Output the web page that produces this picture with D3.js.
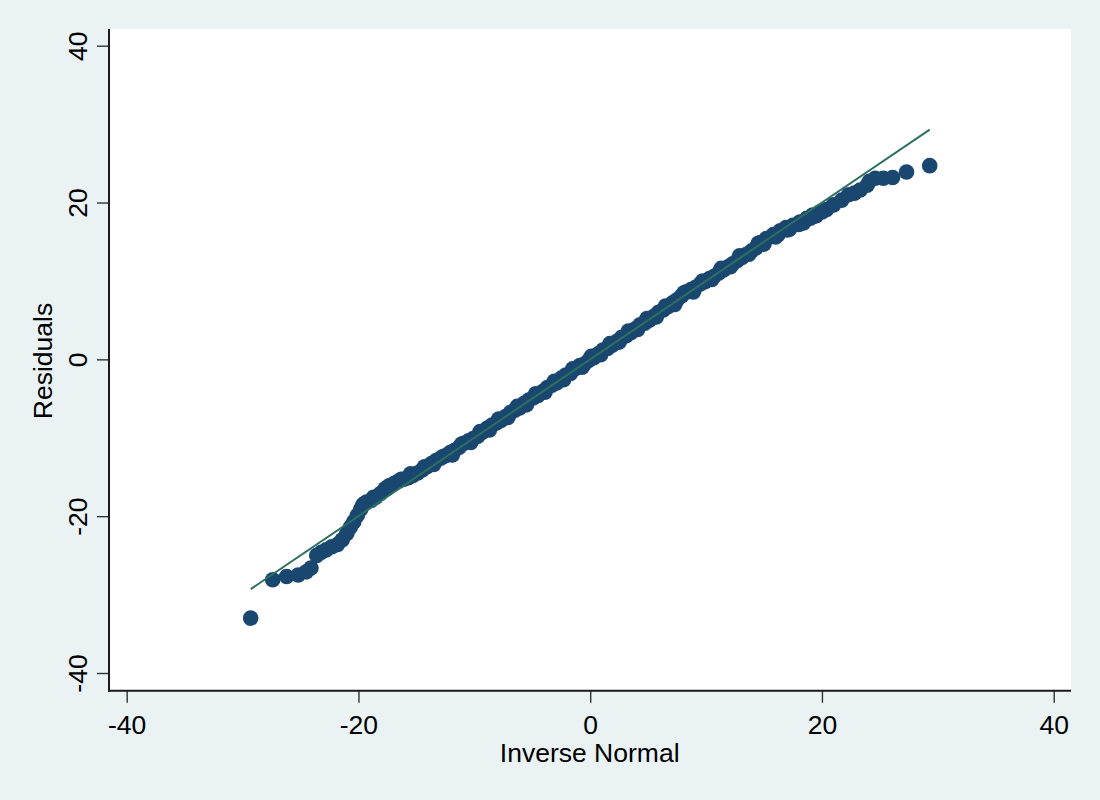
<!DOCTYPE html>
<html>
<head>
<meta charset="utf-8">
<script src="https://cdn.jsdelivr.net/npm/d3@7"></script>
<style>
  html, body { margin: 0; padding: 0; background: #EAF2F3; }
  svg { display: block; }
  text { font-family: "Liberation Sans", Arial, sans-serif; fill: #000; }
</style>
</head>
<body>
<svg id="chart" width="1100" height="800"></svg>
<script>
// ---- Data ----
const xTicks = [-40, -20, 0, 20, 40];
const yTicks = [-40, -20, 0, 20, 40];
const xTitle = "Inverse Normal";
const yTitle = "Residuals";

// Inverse normal quantiles
const inverseNormal = [
  -29.3, -27.4, -26.2, -25.2, -24.5, -24.1, -23.6, -23.2, -22.8, -22.3, -21.8, -21.4,
  -21.0, -20.7, -20.4, -20.1, -19.8, -19.6, -19.3, -18.9, -18.5, -18.1, -17.7, -17.3,
  -16.9, -16.5, -16.1, -15.7, -15.3, -14.9, -14.5, -14.1, -13.7, -13.3,
  -12.9, -12.5, -12.1, -11.7, -11.3, -10.9, -10.5, -10.1, -9.7, -9.3, -8.9, -8.5,
  -8.1, -7.7, -7.3, -6.9, -6.5, -6.1, -5.7, -5.3, -4.9, -4.5, -4.1, -3.7, -3.3,
  -2.9, -2.5, -2.1, -1.7, -1.3, -0.9, -0.5, -0.1, 0.3, 0.7, 1.1, 1.5, 1.9, 2.3,
  2.7, 3.1, 3.5, 3.9, 4.3, 4.7, 5.1, 5.5, 5.9, 6.3, 6.7, 7.1, 7.5, 7.9, 8.3, 8.7,
  9.1, 9.5, 9.9, 10.3, 10.7, 11.1, 11.5, 11.9, 12.3, 12.7, 13.1, 13.5, 13.9, 14.3,
  14.7, 15.2, 15.8, 16.0, 16.4, 16.9, 17.2, 17.5, 18.1, 18.4, 18.7, 19.2, 19.5, 19.8,
  20.4, 21.0, 21.7, 22.3, 22.8, 23.3, 23.9, 24.1, 24.6, 25.3, 26.1, 27.3, 29.3,
  -18.7, -17.5, -16.3, -15.5, -14.3, -13.5,
  -12.7, -11.9, -11.1, -10.3, -9.5, -8.7, -7.9, -7.1, -6.3, -5.5, -4.7, -3.9, -3.1,
  -2.3, -1.5, -0.7, 0.1, 0.9, 1.7, 2.5, 3.3, 4.1, 4.9, 5.7, 6.5, 7.3, 8.1, 8.9,
  9.7, 10.5, 11.3, 12.1, 12.9, 13.7, 14.5, 15.0, 16.2, 17.0, 18.0, 19.0, 20.0
];
// Residuals (same order)
const residuals = [
  -33.0, -28.1, -27.7, -27.5, -27.1, -26.6, -25.0, -24.6, -24.3, -23.9, -23.6, -23.0,
  -22.2, -21.4, -20.7, -19.9, -19.1, -18.5, -18.2, -18.0, -17.6, -17.1, -16.5, -16.1,
  -15.8, -15.5, -15.3, -15.1, -14.8, -14.5, -14.1, -13.7, -13.3, -12.9,
  -12.6, -12.3, -11.9, -11.6, -11.2, -10.7, -10.4, -10.1, -9.8, -9.3, -8.8, -8.4,
  -8.1, -7.8, -7.3, -6.8, -6.5, -6.2, -5.6, -5.2, -4.9, -4.6, -4.1, -3.6, -3.3,
  -3.0, -2.4, -2.0, -1.8, -1.2, -0.8, -0.6, -0.1, 0.2, 0.7, 1.2, 1.4, 1.8, 2.3,
  2.8, 3.0, 3.4, 3.9, 4.4, 4.6, 5.0, 5.5, 6.0, 6.3, 6.7, 7.2, 7.6, 8.1, 8.6, 8.9,
  9.2, 9.6, 9.9, 10.3, 10.6, 11.0, 11.4, 11.8, 12.2, 12.6, 13.0, 13.4, 13.8, 14.2,
  14.9, 15.4, 15.9, 15.6, 16.4, 16.8, 16.6, 17.1, 17.5, 17.4, 18.0, 18.4, 18.3, 18.8,
  19.1, 19.7, 20.3, 21.0, 21.2, 21.6, 22.2, 22.7, 23.1, 23.1, 23.2, 23.9, 24.7,
  -17.6, -16.3, -15.3, -14.6, -13.7, -13.4,
  -12.4, -12.2, -10.8, -10.6, -9.2, -9.0, -7.6, -7.4, -6.0, -5.8, -4.4, -4.2, -2.8,
  -2.6, -1.2, -1.0, 0.4, 0.6, 2.0, 2.2, 3.6, 3.8, 5.2, 5.4, 6.8, 7.0, 8.5, 8.6,
  10.0, 10.2, 11.6, 11.8, 13.2, 13.4, 14.8, 14.7, 15.9, 16.5, 17.2, 18.0, 18.8
];
// Reference line (normal fit) end points
const refLineX = [-29.3, 29.3];
const refLineY = [-29.3, 29.3];

// ---- Layout ----
const svg = d3.select("#chart");
const plot = { left: 109, right: 1071, top: 29, bottom: 690.7 };

const x = d3.scaleLinear().domain([-40, 40]).range([126.7, 1053.7]);
const y = d3.scaleLinear().domain([-40, 40]).range([673, 45.7]);

svg.append("rect").attr("width", 1100).attr("height", 800).attr("fill", "#EAF2F3");
svg.append("rect")
  .attr("x", plot.left).attr("y", plot.top)
  .attr("width", plot.right - plot.left).attr("height", plot.bottom - plot.top)
  .attr("fill", "#ffffff");

// Points
const pts = inverseNormal.map((v, i) => ({ q: v, r: residuals[i] }));
svg.append("g").selectAll("circle").data(pts).enter().append("circle")
  .attr("cx", d => x(d.q)).attr("cy", d => y(d.r)).attr("r", 7.8)
  .attr("fill", "#1A476F");

// Reference line
svg.append("line")
  .attr("x1", x(refLineX[0])).attr("y1", y(refLineY[0]))
  .attr("x2", x(refLineX[1])).attr("y2", y(refLineY[1]))
  .attr("stroke", "#2E7060").attr("stroke-width", 2);

// Axes
const fmt = d => String(d);
const xAxis = d3.axisBottom(x).tickValues(xTicks).tickSize(12).tickFormat(fmt);
const gx = svg.append("g").attr("transform", `translate(0,${plot.bottom})`).call(xAxis);
gx.select(".domain").remove();
gx.selectAll(".tick line").attr("stroke", "#333").attr("stroke-width", 1.4);
gx.selectAll(".tick text").attr("font-size", 26.5).attr("font-family", "Liberation Sans, Arial, sans-serif")
  .attr("fill", "#000").attr("dy", null).attr("y", 43);

const yAxis = d3.axisLeft(y).tickValues(yTicks).tickSize(12).tickFormat(fmt);
const gy = svg.append("g").attr("transform", `translate(${plot.left},0)`).call(yAxis);
gy.select(".domain").remove();
gy.selectAll(".tick line").attr("stroke", "#333").attr("stroke-width", 1.4);
gy.selectAll(".tick text")
  .attr("font-size", 26.5).attr("font-family", "Liberation Sans, Arial, sans-serif")
  .attr("fill", "#000")
  .attr("x", null).attr("dy", null)
  .attr("text-anchor", "middle")
  .attr("transform", "translate(-22,0) rotate(-90)");

// Axis lines
svg.append("line").attr("x1", plot.left).attr("x2", plot.left).attr("y1", plot.top).attr("y2", plot.bottom + 1)
  .attr("stroke", "#1a1a1a").attr("stroke-width", 2);
svg.append("line").attr("x1", plot.left - 1).attr("x2", plot.right).attr("y1", plot.bottom).attr("y2", plot.bottom)
  .attr("stroke", "#1a1a1a").attr("stroke-width", 2);

// Titles
svg.append("text").attr("x", 589.7).attr("y", 762).attr("text-anchor", "middle")
  .attr("font-size", 26.5).text(xTitle);
svg.append("text").attr("transform", "translate(52,361) rotate(-90)").attr("text-anchor", "middle")
  .attr("font-size", 26.5).text(yTitle);
</script>
</body>
</html>
